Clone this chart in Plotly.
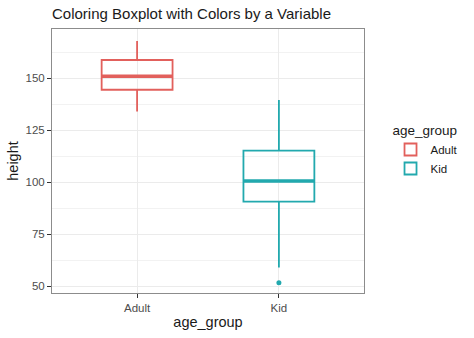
import plotly.graph_objects as go

categories = ["Adult", "Kid"]
q1 = [144.5, 90.7]
median = [151.0, 100.6]
q3 = [158.8, 115.2]
lower_whisker = [134.1, 59.1]
upper_whisker = [167.9, 139.6]
outlier_x = ["Kid"]
outlier_y = [51.7]
colors = ["#E2605C", "#22A9AE"]
y_ticks = [50, 75, 100, 125, 150]
box_width = 0.5

fig = go.Figure()
for i, cat in enumerate(categories):
    fig.add_trace(go.Box(
        x=[cat], q1=[q1[i]], median=[median[i]], q3=[q3[i]],
        lowerfence=[lower_whisker[i]], upperfence=[upper_whisker[i]],
        name=cat, width=box_width,
        line=dict(color=colors[i], width=1.8),
        fillcolor="rgba(255,255,255,0)", boxpoints=False,
        whiskerwidth=0,
    ))
    # thick median line like ggplot
    fig.add_shape(type="line", xref="x", yref="y",
                  x0=i - box_width / 2, x1=i + box_width / 2,
                  y0=median[i], y1=median[i],
                  line=dict(color=colors[i], width=3.5))
fig.add_trace(go.Scatter(
    x=outlier_x, y=outlier_y, mode="markers", showlegend=False,
    marker=dict(color=colors[1], size=5),
))

fig.update_layout(
    width=474, height=338,
    margin=dict(l=52, r=110, t=29, b=45, autoexpand=False),
    paper_bgcolor="white", plot_bgcolor="white",
    font=dict(family="Liberation Sans, Arial", color="#1A1A1A"),
    title=dict(text="Coloring Boxplot with Colors by a Variable",
               x=52/474, xanchor="left", y=1-14/338, yanchor="middle",
               font=dict(size=15, color="#1A1A1A")),
    legend=dict(title=dict(text="age_group", font=dict(size=13.5)),
                font=dict(size=11.5), x=1.085, xanchor="left", y=0.54, yanchor="middle",
                tracegroupgap=0),
    showlegend=True,
)
fig.update_xaxes(
    type="category", categoryorder="array", categoryarray=categories,
    range=[-0.6, 1.6], showgrid=True, gridcolor="#EBEBEB", gridwidth=1,
    ticks="outside", ticklen=4, tickcolor="#333333",
    tickfont=dict(size=11.5, color="#4D4D4D"),
    title=dict(text="age_group", font=dict(size=14.5), standoff=4),
    showline=True, linecolor="#8C8C8C", mirror=True, linewidth=1, zeroline=False,
)
fig.update_yaxes(
    range=[46.8, 173.7], tickvals=y_ticks, showgrid=True, gridcolor="#EBEBEB",
    gridwidth=1,
    minor=dict(tickvals=[62.5, 87.5, 112.5, 137.5, 162.5], showgrid=True,
               gridcolor="#F2F2F2", gridwidth=0.6),
    ticks="outside", ticklen=4, tickcolor="#333333",
    tickfont=dict(size=11.5, color="#4D4D4D"),
    title=dict(text="height", font=dict(size=14.5), standoff=3),
    showline=True, linecolor="#8C8C8C", mirror=True, linewidth=1, zeroline=False,
)
fig.write_html("out.html")
